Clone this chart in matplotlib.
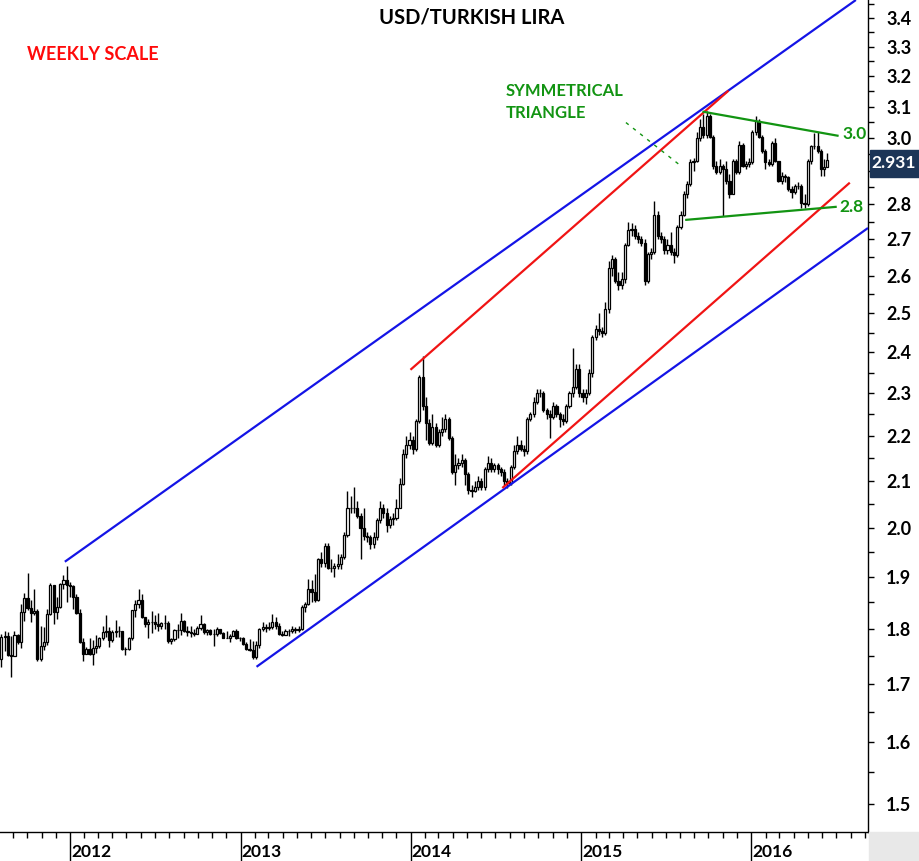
import numpy as np
import pandas as pd
import matplotlib
matplotlib.use("Agg")
import matplotlib.pyplot as plt
import matplotlib.dates as mdates
from matplotlib.ticker import FixedLocator, NullFormatter, FuncFormatter
from matplotlib.transforms import blended_transform_factory
from matplotlib.patches import Rectangle

# Ukentlige candles USD/TRY, lest av bildet
start_date = "2011-08-07"
first_open = 1.745

close = [
    1.785, 1.786, 1.752, 1.749, 1.789, 1.776, 1.831, 1.859, 1.840, 1.829,
    1.833, 1.744, 1.767, 1.776, 1.828, 1.883, 1.831, 1.841, 1.885, 1.894,
    1.883, 1.881, 1.860, 1.829, 1.776, 1.753, 1.763, 1.753, 1.765, 1.768,
    1.783, 1.794, 1.796, 1.779, 1.793, 1.795, 1.795, 1.763, 1.762, 1.782,
    1.835, 1.846, 1.854, 1.823, 1.809, 1.812, 1.812, 1.808, 1.806, 1.810,
    1.810, 1.777, 1.780, 1.798, 1.798, 1.815, 1.795, 1.793, 1.792, 1.790,
    1.801, 1.809, 1.793, 1.798, 1.790, 1.790, 1.800, 1.792, 1.783, 1.783,
    1.787, 1.796, 1.782, 1.782, 1.771, 1.762, 1.760, 1.748, 1.770, 1.800,
    1.803, 1.802, 1.803, 1.813, 1.805, 1.791, 1.789, 1.795, 1.796, 1.800,
    1.797, 1.800, 1.841, 1.846, 1.876, 1.870, 1.855, 1.935, 1.927, 1.962,
    1.918, 1.917, 1.922, 1.926, 1.940, 1.985, 2.040, 2.040, 2.042, 2.025,
    2.000, 1.983, 1.980, 1.965, 1.980, 2.015, 2.042, 2.030, 2.005, 2.018,
    2.020, 2.042, 2.093, 2.160, 2.180, 2.190, 2.170, 2.235, 2.340, 2.270,
    2.230, 2.185, 2.220, 2.180, 2.210, 2.215, 2.240, 2.195, 2.120, 2.135,
    2.140, 2.145, 2.115, 2.080, 2.078, 2.087, 2.100, 2.087, 2.125, 2.140,
    2.125, 2.135, 2.125, 2.120, 2.100, 2.095, 2.130, 2.165, 2.180, 2.170,
    2.165, 2.240, 2.250, 2.280, 2.300, 2.300, 2.260, 2.250, 2.245, 2.270,
    2.250, 2.240, 2.235, 2.270, 2.300, 2.315, 2.360, 2.300, 2.290, 2.300,
    2.350, 2.440, 2.460, 2.455, 2.450, 2.510, 2.620, 2.645, 2.585, 2.575,
    2.590, 2.685, 2.725, 2.730, 2.710, 2.700, 2.690, 2.585, 2.660, 2.665,
    2.770, 2.710, 2.700, 2.670, 2.685, 2.665, 2.655, 2.735, 2.770, 2.830,
    2.860, 2.925, 2.930, 3.000, 3.035, 3.010, 3.070, 3.005, 2.915, 2.895,
    2.915, 2.905, 2.870, 2.830, 2.930, 2.895, 2.980, 2.915, 2.920, 2.925,
    3.020, 3.055, 3.005, 2.960, 2.925, 2.920, 2.985, 2.930, 2.870, 2.885,
    2.880, 2.845, 2.835, 2.855, 2.855, 2.805, 2.800, 2.930, 2.975, 2.975,
    2.960, 2.905, 2.910, 2.931,
]

high = [
    1.790, 1.795, 1.793, 1.787, 1.796, 1.790, 1.847, 1.869, 1.907, 1.854,
    1.875, 1.838, 1.806, 1.803, 1.838, 1.888, 1.883, 1.860, 1.888, 1.903,
    1.921, 1.890, 1.883, 1.867, 1.838, 1.782, 1.766, 1.782, 1.779, 1.789,
    1.785, 1.806, 1.825, 1.803, 1.797, 1.817, 1.806, 1.791, 1.766, 1.785,
    1.836, 1.855, 1.876, 1.867, 1.820, 1.819, 1.833, 1.825, 1.830, 1.812,
    1.825, 1.815, 1.782, 1.800, 1.809, 1.829, 1.817, 1.805, 1.806, 1.800,
    1.806, 1.825, 1.810, 1.800, 1.800, 1.800, 1.804, 1.800, 1.794, 1.795,
    1.790, 1.797, 1.800, 1.785, 1.785, 1.775, 1.780, 1.778, 1.778, 1.802,
    1.813, 1.808, 1.813, 1.827, 1.822, 1.810, 1.795, 1.800, 1.800, 1.805,
    1.804, 1.805, 1.845, 1.851, 1.896, 1.893, 1.905, 1.937, 1.950, 1.967,
    1.969, 1.935, 1.927, 1.945, 1.945, 1.990, 2.078, 2.067, 2.087, 2.057,
    2.030, 2.040, 1.990, 1.985, 1.990, 2.020, 2.055, 2.050, 2.040, 2.025,
    2.030, 2.060, 2.105, 2.170, 2.200, 2.210, 2.200, 2.240, 2.345, 2.390,
    2.290, 2.240, 2.250, 2.230, 2.215, 2.245, 2.250, 2.245, 2.200, 2.160,
    2.150, 2.160, 2.150, 2.120, 2.090, 2.100, 2.110, 2.105, 2.130, 2.155,
    2.150, 2.140, 2.140, 2.130, 2.125, 2.105, 2.135, 2.180, 2.200, 2.190,
    2.180, 2.245, 2.255, 2.290, 2.310, 2.310, 2.305, 2.265, 2.260, 2.280,
    2.275, 2.255, 2.250, 2.275, 2.305, 2.410, 2.370, 2.370, 2.310, 2.310,
    2.360, 2.445, 2.470, 2.500, 2.465, 2.530, 2.640, 2.655, 2.650, 2.610,
    2.610, 2.690, 2.750, 2.745, 2.740, 2.720, 2.710, 2.700, 2.665, 2.675,
    2.810, 2.780, 2.720, 2.710, 2.700, 2.720, 2.675, 2.740, 2.780, 2.840,
    2.870, 2.935, 2.940, 3.020, 3.060, 3.075, 3.085, 3.075, 3.010, 2.930,
    2.935, 2.920, 2.930, 2.890, 2.935, 2.935, 2.990, 2.985, 2.930, 2.940,
    3.025, 3.070, 3.060, 3.010, 2.965, 2.935, 2.990, 3.000, 2.930, 2.895,
    2.890, 2.885, 2.855, 2.860, 2.865, 2.860, 2.830, 2.935, 2.980, 3.015,
    3.020, 2.965, 2.935, 2.955,
]

low = [
    1.730, 1.758, 1.749, 1.711, 1.749, 1.772, 1.764, 1.815, 1.835, 1.812,
    1.825, 1.740, 1.740, 1.761, 1.770, 1.826, 1.809, 1.819, 1.840, 1.876,
    1.851, 1.860, 1.838, 1.828, 1.773, 1.740, 1.753, 1.752, 1.734, 1.755,
    1.765, 1.779, 1.785, 1.766, 1.776, 1.785, 1.785, 1.760, 1.752, 1.761,
    1.779, 1.822, 1.840, 1.821, 1.803, 1.783, 1.792, 1.800, 1.795, 1.800,
    1.800, 1.774, 1.771, 1.778, 1.783, 1.789, 1.793, 1.787, 1.785, 1.787,
    1.790, 1.798, 1.790, 1.789, 1.789, 1.767, 1.786, 1.790, 1.782, 1.782,
    1.776, 1.787, 1.780, 1.777, 1.770, 1.760, 1.758, 1.745, 1.745, 1.764,
    1.795, 1.793, 1.798, 1.800, 1.800, 1.789, 1.786, 1.788, 1.786, 1.792,
    1.792, 1.793, 1.797, 1.832, 1.845, 1.850, 1.850, 1.853, 1.920, 1.920,
    1.916, 1.910, 1.900, 1.915, 1.915, 1.935, 1.980, 2.030, 2.030, 2.020,
    1.935, 1.975, 1.970, 1.955, 1.958, 1.975, 2.010, 2.020, 1.990, 2.000,
    2.005, 2.015, 2.040, 2.090, 2.150, 2.170, 2.160, 2.165, 2.230, 2.260,
    2.190, 2.180, 2.180, 2.175, 2.175, 2.200, 2.210, 2.190, 2.115, 2.090,
    2.125, 2.130, 2.090, 2.070, 2.065, 2.075, 2.080, 2.080, 2.080, 2.120,
    2.120, 2.120, 2.115, 2.110, 2.090, 2.085, 2.090, 2.125, 2.160, 2.165,
    2.155, 2.160, 2.235, 2.245, 2.275, 2.290, 2.255, 2.240, 2.195, 2.240,
    2.245, 2.220, 2.225, 2.230, 2.265, 2.290, 2.310, 2.290, 2.280, 2.275,
    2.295, 2.340, 2.430, 2.445, 2.440, 2.445, 2.500, 2.600, 2.580, 2.560,
    2.565, 2.580, 2.680, 2.710, 2.700, 2.690, 2.680, 2.575, 2.580, 2.645,
    2.660, 2.700, 2.690, 2.660, 2.660, 2.655, 2.635, 2.650, 2.730, 2.765,
    2.820, 2.855, 2.900, 2.925, 2.990, 3.000, 3.000, 3.000, 2.905, 2.890,
    2.890, 2.765, 2.860, 2.820, 2.830, 2.890, 2.890, 2.910, 2.905, 2.910,
    2.920, 3.010, 3.000, 2.955, 2.905, 2.915, 2.915, 2.925, 2.865, 2.860,
    2.865, 2.840, 2.820, 2.830, 2.845, 2.790, 2.790, 2.795, 2.920, 2.965,
    2.955, 2.885, 2.885, 2.910,
]

# Trendlinjer: (dato, kurs) for start og slutt
blue_upper = (["2011-12-21", "2016-08-12"], [1.930, 3.464])
blue_lower = (["2013-02-04", "2016-09-07"], [1.730, 2.732])
red_upper = (["2013-12-31", "2015-11-13"], [2.357, 3.152])
red_lower = (["2014-07-16", "2016-07-30"], [2.084, 2.864])
green_upper = (["2015-09-18", "2016-07-06"], [3.084, 3.007])
green_lower = (["2015-08-12", "2016-07-02"], [2.755, 2.793])
green_dotted = (["2015-04-07", "2015-08-05"], [3.049, 2.912])

last_price = "2.931"
y_major = [1.5, 1.6, 1.7, 1.8, 1.9, 2.0, 2.1, 2.2, 2.3, 2.4, 2.5,
           2.6, 2.7, 2.8, 2.9, 3.0, 3.1, 3.2, 3.3, 3.4]
y_minor = [v + 0.05 for v in y_major]
years = ["2012", "2013", "2014", "2015", "2016"]

W, H = 919, 861
font = ["Lato", "DejaVu Sans"]
plt.rcParams["font.family"] = font

close = np.array(close)
high = np.array(high)
low = np.array(low)
opn = np.r_[first_open, close[:-1]]
dates = pd.date_range(start_date, periods=len(close), freq="7D")
x = mdates.date2num(dates)

fig = plt.figure(figsize=(W / 100, H / 100), dpi=100)
ax = fig.add_axes([0, 29 / H, 868 / W, 832 / H])
ax.set_yscale("log")
ax.set_ylim(1.4566, 3.464)
ax.set_xlim(mdates.date2num(pd.Timestamp("2011-08-04")),
            mdates.date2num(pd.Timestamp("2016-09-07")))

# candles
up = close >= opn
lo_b = np.minimum(opn, close)
hi_b = np.maximum(opn, close)
ax.vlines(x, low, high, color="black", lw=1.0, zorder=2)
ax.bar(x[up], hi_b[up] - lo_b[up], bottom=lo_b[up], width=4.6,
       color="white", edgecolor="black", lw=0.9, zorder=3)
ax.bar(x[~up], hi_b[~up] - lo_b[~up], bottom=lo_b[~up], width=4.6,
       color="black", edgecolor="black", lw=0.9, zorder=3)

# trendlinjer
def line(pts, color, **kw):
    d = mdates.date2num(pd.to_datetime(pts[0]))
    ax.plot(d, pts[1], color=color, zorder=4, solid_capstyle="butt", **kw)

line(blue_upper, "#1414e6", lw=1.6)
line(blue_lower, "#1414e6", lw=1.6)
line(red_upper, "#f01414", lw=1.6)
line(red_lower, "#f01414", lw=1.6)
line(green_upper, "#129412", lw=1.6)
line(green_lower, "#129412", lw=1.6)
line(green_dotted, "#129412", lw=1.0, ls=(0, (2.5, 4)))

# akser
for s in ["top", "left"]:
    ax.spines[s].set_visible(False)
ax.spines["right"].set_linewidth(1.0)
ax.spines["bottom"].set_linewidth(1.0)
ax.yaxis.tick_right()
ax.yaxis.set_major_locator(FixedLocator(y_major))
ax.yaxis.set_minor_locator(FixedLocator(y_minor))
ax.yaxis.set_major_formatter(FuncFormatter(lambda v, p: f"{v:.1f}"))
ax.yaxis.set_minor_formatter(NullFormatter())
ax.tick_params(axis="y", which="both", direction="out", length=4, width=1,
               pad=9, labelsize=13)
for t in ax.get_yticklabels():
    t.set_fontweight("bold")

ax.xaxis.set_major_locator(mdates.YearLocator())
ax.xaxis.set_minor_locator(mdates.MonthLocator())
ax.xaxis.set_major_formatter(NullFormatter())
ax.tick_params(axis="x", which="major", direction="out", length=22, width=1)
ax.tick_params(axis="x", which="minor", direction="out", length=4, width=1)
tr = blended_transform_factory(ax.transData, ax.transAxes)
for yr in years:
    ax.text(mdates.date2num(pd.Timestamp(yr + "-01-01")) + 2, -0.0245, yr,
            transform=tr, ha="left", va="center", fontsize=12.5,
            fontweight="bold", clip_on=False)

# tekst
fig.text(472 / W, 1 - 17 / H, "USD/TURKISH LIRA", ha="center", va="center",
         fontsize=14.5, fontweight="bold", color="black")
fig.text(27 / W, 1 - 54 / H, "WEEKLY SCALE", ha="left", va="center",
         fontsize=13, fontweight="bold", color="#ff0a0a")
fig.text(506 / W, 1 - 91 / H, "SYMMETRICAL", ha="left", va="center",
         fontsize=12, fontweight="bold", color="#129412")
fig.text(506 / W, 1 - 113 / H, "TRIANGLE", ha="left", va="center",
         fontsize=12, fontweight="bold", color="#129412")
gu = mdates.date2num(pd.to_datetime(green_upper[0]))
gl = mdates.date2num(pd.to_datetime(green_lower[0]))
ax.annotate("3.0", (gu[1], green_upper[1][1]), xytext=(3, 1),
            textcoords="offset points", ha="left", va="center", fontsize=12.5,
            fontweight="bold", color="#129412", annotation_clip=False)
ax.annotate("2.8", (gl[1], green_lower[1][1]), xytext=(2, 0),
            textcoords="offset points", ha="left", va="center", fontsize=12.5,
            fontweight="bold", color="#129412", annotation_clip=False)

# pris-merke og grått hjørne
fig.patches.append(Rectangle((870 / W, 1 - 177 / H), 49 / W, 27 / H,
                             transform=fig.transFigure, color="#1c3557",
                             zorder=5))
fig.text(894 / W, 1 - 163 / H, last_price, ha="center", va="center",
         fontsize=12.5, fontweight="bold", color="white", zorder=6)
fig.patches.append(Rectangle((869 / W, 0), 50 / W, 29 / H,
                             transform=fig.transFigure, color="#e8e8e8",
                             zorder=0))

fig.savefig("out.png", dpi=100)
